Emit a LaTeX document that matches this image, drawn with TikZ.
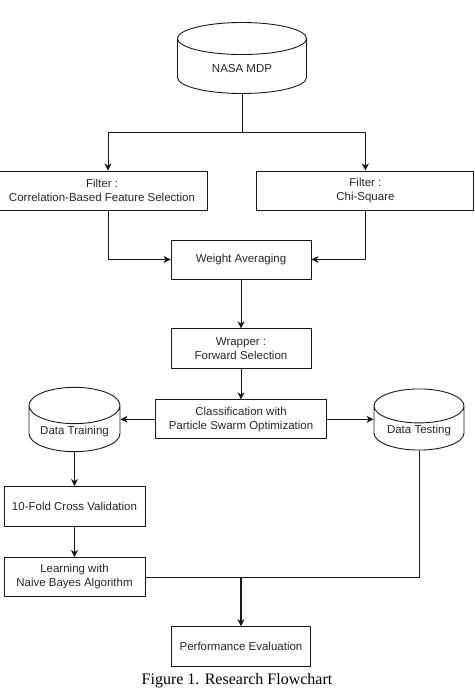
\documentclass[tikz,border=0pt]{standalone}
\usepackage{fontspec}
\setmainfont{Liberation Sans}
\newfontfamily\capfont{Liberation Serif}
\usetikzlibrary{positioning, shapes.geometric, arrows.meta}

\tikzset{
  box/.style={draw=black!90, line width=0.9pt, text=black!85, align=center,
    font=\fontsize{11.5}{14}\selectfont, inner sep=2pt},
  db/.style={cylinder, shape border rotate=90, draw=black!90, line width=0.9pt,
    text=black!85, font=\fontsize{11.5}{14}\selectfont, inner sep=2pt},
  line/.style={draw=black!90, line width=0.9pt},
  arr/.style={line, -{Stealth[length=7pt, width=7pt, inset=2pt]}},
}

\begin{document}
\begin{tikzpicture}

  \useasboundingbox (0,0) rectangle (474pt,-690pt);

  \node (nasa) [db, aspect=0.5, minimum width=129pt, minimum height=71pt, anchor=shape center] at (242pt,-58pt) {NASA MDP};
  \node (cfs) [box, minimum width=210pt, minimum height=39pt] at (102pt,-190.5pt) {Filter :\\Correlation-Based Feature Selection};
  \node (chi) [box, minimum width=217pt, minimum height=39pt, right=49pt of cfs] {Filter :\\Chi-Square};

  \node (wavg) [box, minimum width=140pt, minimum height=39pt] at (241pt,-259.5pt) {Weight Averaging};
  \node (wrap) [box, minimum width=140pt, minimum height=40pt, below=49pt of wavg] {Wrapper :\\Forward Selection};
  \node (cls) [box, minimum width=171pt, minimum height=39pt, below=30pt of wrap] {Classification with\\Particle Swarm Optimization};

  \node (train) [db, aspect=0.5, minimum width=91pt, minimum height=59pt, anchor=shape center] at (74.5pt,-419.5pt) {Data Training};
  \node (test) [db, aspect=0.5, minimum width=90pt, minimum height=59pt, anchor=shape center] at (419pt,-419.5pt) {Data Testing};

  \node (cv) [box, minimum width=141pt, minimum height=40pt, below=34pt of train] {10-Fold Cross Validation};
  \node (nb) [box, minimum width=141pt, minimum height=39pt, below=30pt of cv] {Learning with\\Naive Bayes Algorithm};
  \node (perf) [box, minimum width=139pt, minimum height=40pt, below=187pt of cls] {Performance Evaluation};

  \node (cap) [font=\capfont\fontsize{16}{18}\selectfont] at (237pt,-681pt) {Figure 1. Research Flowchart};

  \draw [line] (nasa.south) -- ++(0,-38pt) coordinate (split);
  \draw [arr] (split) -| ([xshift=6pt]cfs.north);
  \draw [arr] (split) -| (chi.north);
  \draw [arr] ([xshift=6pt]cfs.south) |- (wavg);
  \draw [arr] (chi.south) |- (wavg);
  \draw [arr] (wavg) -- (wrap);
  \draw [arr] (wrap) -- (cls);
  \draw [arr] (cls.west) -- (cls.west -| train.east);
  \draw [arr] (cls.east) -- (cls.east -| test.west);
  \draw [arr] (train.south) -- (train.south |- cv.north);
  \draw [arr] (cv) -- (nb);
  \draw [line] (nb.east) -| (test.south);
  \draw [arr, line width=1.6pt] (nb.east -| perf.north) -- (perf.north);

\end{tikzpicture}
\end{document}
